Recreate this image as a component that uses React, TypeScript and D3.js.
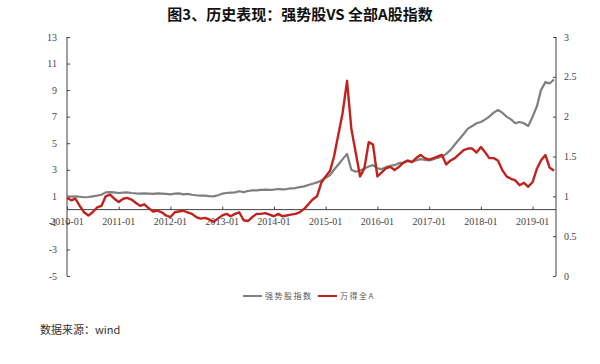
import React, { useEffect, useRef } from "react";
import * as d3 from "d3";

// monthly, 2010-01 .. 2019-06
const startMonth = new Date(2010, 0, 1);

// 强势股指数 (left axis)
const strongIdx = [
  1.0, 0.98, 1.0, 0.97, 0.93, 0.95, 1.0, 1.05, 1.12, 1.3, 1.32, 1.3,
  1.25, 1.28, 1.3, 1.25, 1.22, 1.2, 1.22, 1.2, 1.18, 1.22, 1.2, 1.18,
  1.15, 1.2, 1.22, 1.15, 1.18, 1.12, 1.08, 1.05, 1.05, 1.02, 1.0, 1.08,
  1.2, 1.25, 1.28, 1.3, 1.38, 1.32, 1.4, 1.45, 1.45, 1.48, 1.5, 1.48,
  1.5, 1.55, 1.52, 1.55, 1.6, 1.62, 1.7, 1.75, 1.85, 1.95, 2.05, 2.2,
  2.4, 2.6, 3.0, 3.4, 3.8, 4.2, 3.0, 2.85, 2.95, 3.1, 3.25, 3.35,
  3.1, 3.05, 3.2, 3.3, 3.35, 3.5, 3.55, 3.65, 3.6, 3.7, 3.8, 3.75,
  3.7, 3.8, 3.9, 4.0, 4.2, 4.5, 4.9, 5.3, 5.7, 6.1, 6.3, 6.5,
  6.6, 6.8, 7.0, 7.3, 7.5, 7.3, 7.0, 6.8, 6.5, 6.6, 6.5, 6.3,
  7.0, 7.8, 9.0, 9.6, 9.5, 9.8,
];

// 万得全A (right axis)
const windA = [
  0.98, 0.95, 0.97, 0.88, 0.8, 0.76, 0.8, 0.86, 0.88, 1.0, 1.02, 0.97,
  0.93, 0.97, 0.98, 0.96, 0.92, 0.88, 0.9, 0.85, 0.81, 0.82, 0.8, 0.76,
  0.74, 0.8, 0.81, 0.82, 0.8, 0.78, 0.74, 0.72, 0.73, 0.71, 0.68, 0.72,
  0.76, 0.78, 0.75, 0.78, 0.8, 0.7, 0.69, 0.74, 0.78, 0.78, 0.79, 0.77,
  0.75, 0.78, 0.75, 0.76, 0.77, 0.78, 0.8, 0.84, 0.9, 0.96, 1.0, 1.17,
  1.25, 1.32, 1.5, 1.78, 2.05, 2.45, 1.85, 1.55, 1.25, 1.35, 1.68, 1.65,
  1.25, 1.3, 1.35, 1.37, 1.33, 1.37, 1.42, 1.45, 1.43, 1.48, 1.52, 1.48,
  1.46, 1.48, 1.5, 1.52, 1.4, 1.45, 1.48, 1.53, 1.58, 1.6, 1.6, 1.55,
  1.62, 1.55, 1.48, 1.48, 1.45, 1.33, 1.25, 1.22, 1.2, 1.14, 1.17, 1.12,
  1.18, 1.35, 1.45, 1.52, 1.36, 1.32,
];

const leftTicks = [-5, -3, -1, 1, 3, 5, 7, 9, 11, 13];
const rightTicks = [0, 0.5, 1, 1.5, 2, 2.5, 3];
const yearTicks = [2010, 2011, 2012, 2013, 2014, 2015, 2016, 2017, 2018, 2019];
const seriesNames = ["强势股指数", "万得全A"];
const colors = ["#7f7f7f", "#c0231f"];

export default function App() {
  const ref = useRef<SVGSVGElement>(null);

  useEffect(() => {
    const svg = d3.select(ref.current);
    svg.selectAll("*").remove();

    const left = 67, right = 556, top = 37, bottom = 276;
    const dates = strongIdx.map((_, i) => d3.timeMonth.offset(startMonth, i));

    const x = d3.scaleTime()
      .domain([startMonth, new Date(2019, 5, 15)])
      .range([left, right]);
    const yL = d3.scaleLinear().domain([-5, 13]).range([bottom, top]);
    const yR = d3.scaleLinear().domain([0, 3]).range([bottom, top]);

    const font = "'Liberation Serif', 'Times New Roman', serif";
    const axisColor = "#404040";

    // title
    svg.append("text")
      .attr("x", 300).attr("y", 20)
      .attr("text-anchor", "middle")
      .attr("font-family", "'Noto Sans CJK SC', sans-serif")
      .attr("font-weight", "bold")
      .attr("font-size", 15)
      .attr("fill", "#111")
      .text("图3、历史表现：强势股VS 全部A股指数");

    // left axis
    const gl = svg.append("g").attr("transform", `translate(${left},0)`);
    gl.call(d3.axisRight(yL).tickValues(leftTicks).tickSize(3).tickFormat(() => ""));
    gl.select(".domain").attr("d", `M0,${top}V${bottom}`).attr("stroke", axisColor);
    gl.selectAll(".tick line").attr("stroke", axisColor);
    svg.append("g").selectAll("text")
      .data(leftTicks)
      .join("text")
      .attr("x", left - 10)
      .attr("y", d => yL(d) + 3.5)
      .attr("text-anchor", "end")
      .attr("font-family", font)
      .attr("font-size", 10)
      .attr("fill", "#444")
      .text(d => d);

    // right axis
    const gr = svg.append("g").attr("transform", `translate(${right},0)`);
    gr.call(d3.axisLeft(yR).tickValues(rightTicks).tickSize(3).tickFormat(() => ""));
    gr.select(".domain").attr("d", `M0,${top}V${bottom}`).attr("stroke", axisColor);
    gr.selectAll(".tick line").attr("stroke", axisColor);
    svg.append("g").selectAll("text")
      .data(rightTicks)
      .join("text")
      .attr("x", right + 8)
      .attr("y", d => yR(d) + 3.5)
      .attr("font-family", font)
      .attr("font-size", 10)
      .attr("fill", "#444")
      .text(d => d);

    // x axis at left 0
    const x0 = yL(0);
    const gx = svg.append("g").attr("transform", `translate(0,${x0})`);
    gx.call(d3.axisTop(x).tickValues(yearTicks.map(y => new Date(y, 0, 1))).tickSize(3).tickFormat(() => ""));
    gx.select(".domain").attr("d", `M${left},0H${right}`).attr("stroke", axisColor);
    gx.selectAll(".tick line").attr("stroke", axisColor);
    svg.append("g").selectAll("text")
      .data(yearTicks)
      .join("text")
      .attr("x", d => x(new Date(d, 0, 1)))
      .attr("y", x0 + 15)
      .attr("text-anchor", "middle")
      .attr("font-family", font)
      .attr("font-size", 10)
      .attr("fill", "#444")
      .text(d => `${d}-01`);

    // lines
    const lineL = d3.line<number>().x((_, i) => x(dates[i])).y(d => yL(d));
    const lineR = d3.line<number>().x((_, i) => x(dates[i])).y(d => yR(d));
    svg.append("path").datum(strongIdx)
      .attr("d", lineL).attr("fill", "none")
      .attr("stroke", colors[0]).attr("stroke-width", 2.2)
      .attr("stroke-linejoin", "round");
    svg.append("path").datum(windA)
      .attr("d", lineR).attr("fill", "none")
      .attr("stroke", colors[1]).attr("stroke-width", 2.4)
      .attr("stroke-linejoin", "round");

    // legend
    const lx = [243, 318];
    const lg = svg.append("g");
    seriesNames.forEach((name, i) => {
      lg.append("line")
        .attr("x1", lx[i]).attr("x2", lx[i] + 19)
        .attr("y1", 296).attr("y2", 296)
        .attr("stroke", colors[i]).attr("stroke-width", 2);
      lg.append("text")
        .attr("x", lx[i] + 22).attr("y", 299)
        .attr("font-family", "'Noto Sans CJK SC', sans-serif")
        .attr("font-size", 8)
        .attr("letter-spacing", 1.5)
        .attr("fill", "#555")
        .text(name);
    });

    // source
    svg.append("text")
      .attr("x", 40).attr("y", 334)
      .attr("font-family", "'Noto Sans CJK SC', sans-serif")
      .attr("font-size", 11)
      .attr("fill", "#333")
      .text("数据来源：wind");
  }, []);

  return (
    <svg
      ref={ref}
      width={600}
      height={364}
      style={{ position: "absolute", left: 0, top: 0, background: "#fff" }}
    />
  );
}
